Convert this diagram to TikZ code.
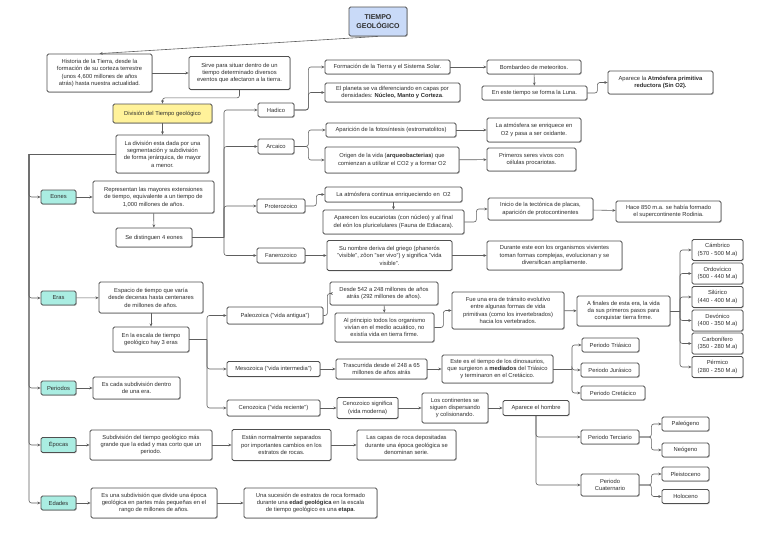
\documentclass[tikz,border=0pt]{standalone}
\usepackage{fontspec}
\setmainfont{Liberation Sans}
\usetikzlibrary{arrows.meta,shadows}
\definecolor{gristrazo}{HTML}{5E5E5E}
\definecolor{borde}{HTML}{505050}
\definecolor{azulcab}{HTML}{C9DAF8}
\definecolor{amarillo}{HTML}{FFF29A}
\definecolor{turquesa}{HTML}{AAEDE2}
\definecolor{texto}{HTML}{2E2E2E}

\begin{document}
\begin{tikzpicture}[x=1pt, y=-1pt,
  caja/.style={draw=borde, line width=0.8pt, rounded corners=1.5pt, fill=white,
    drop shadow={shadow xshift=0.8pt, shadow yshift=-0.8pt, fill=black, opacity=0.2},
    align=center, inner sep=1pt, text=texto, font=\fontsize{5.8}{7.4}\selectfont},
  clase/.style={caja, fill=turquesa},
  tam/.style 2 args={minimum width=#1, minimum height=#2},
  tramo/.style={draw=gristrazo, line width=0.6pt, rounded corners=2.5pt},
  flecha/.style={tramo, -{Stealth[length=3.2pt, width=2.8pt]}}]

  \useasboundingbox (0,0) rectangle (768,544);

  % --- cabecera ---
  \node[caja, fill=azulcab, tam={58pt}{29pt}, font=\fontsize{7}{8.6}\selectfont\bfseries]
    (tiempo) at (378,21.5) {TIEMPO\\GEOLÓGICO};
  \node[caja, tam={105pt}{38pt}] (historia) at (99.5,73)
    {Historia de la Tierra, desde la\\formación de su corteza terrestre\\(unos 4,600 millones de años\\atrás) hasta nuestra actualidad.};
  \node[caja, tam={101pt}{33pt}] (sirve) at (239.5,73)
    {Sirve para situar dentro de un\\tiempo determinado diversos\\eventos que afectaron a la tierra.};
  \node[caja, fill=amarillo, tam={99pt}{19pt}] (division) at (162.5,113.5) {División del Tiempo geológico};
  \node[caja, tam={93pt}{38pt}] (ladiv) at (162.5,154)
    {La división esta dada por una\\segmentación y subdivisión\\de forma jerárquica, de mayor\\a menor.};

  % --- eones ---
  \node[clase, tam={35pt}{14pt}] (eones) at (58.5,197) {Eones};
  \node[caja, tam={121pt}{32pt}] (repres) at (153.5,197)
    {Representan las mayores extensiones\\de tiempo, equivalente a un tiempo de\\1,000 millones de años.};
  \node[caja, tam={76pt}{19pt}] (sedist) at (154,237.5) {Se distinguen 4 eones};

  % --- hadico ---
  \node[caja, tam={36pt}{14pt}] (hadico) at (276,110) {Hadico};
  \node[caja, tam={125pt}{14pt}] (formacion) at (387.5,67) {Formación de la Tierra y el Sistema Solar.};
  \node[caja, tam={135pt}{19pt}] (planeta) at (392.5,92.5)
    {El planeta se va diferenciando en capas por\\densidades: \textbf{Núcleo, Manto y Corteza}.};
  \node[caja, tam={94pt}{14pt}] (bombardeo) at (534,67) {Bombardeo de meteoritos.};
  \node[caja, tam={105pt}{14pt}] (luna) at (534.5,93) {En este tiempo se forma la Luna.};
  \node[caja, tam={105pt}{23pt}] (atmprim) at (660.5,82.5)
    {Aparece la \textbf{Atmósfera primitiva}\\\textbf{reductora (Sin O2).}};

  % --- arcaico ---
  \node[caja, tam={36pt}{15pt}] (arcaico) at (276,146.5) {Arcaico};
  \node[caja, tam={130pt}{14pt}] (fotosint) at (391,130) {Aparición de la fotosíntesis (estromatolitos)};
  \node[caja, tam={134pt}{26pt}] (origen) at (392,160)
    {Origen de la vida (\textbf{arqueobacterias}) que\\comienzan a utilizar el CO2 y a formar O2};
  \node[caja, tam={94pt}{24pt}] (atmoxid) at (534,130) {La atmósfera se enriquece en\\O2 y pasa a ser oxidante.};
  \node[caja, tam={89pt}{23pt}] (primeros) at (531.5,159.5) {Primeros seres vivos con\\células procariotas.};

  % --- proterozoico ---
  \node[caja, tam={48pt}{14pt}] (protero) at (281,206) {Proterozoico};
  \node[caja, tam={137pt}{15pt}] (atmcont) at (393.5,194.5) {La atmósfera continua enriqueciendo en \ O2};
  \node[caja, tam={141pt}{24pt}] (eucar) at (393.5,222)
    {Aparecen los eucariotas (con núcleo) y al final\\del eón los pluricelulares (Fauna de Ediacara).};
  \node[caja, tam={105pt}{22pt}] (tectonica) at (540.5,209)
    {Inicio de la tectónica de placas,\\aparición de protocontinentes};
  \node[caja, tam={105pt}{21pt}] (rodinia) at (668.5,211.5)
    {Hace 850 m.a. se había formado\\el supercontinente Rodinia.};

  % --- fanerozoico ---
  \node[caja, tam={48pt}{15pt}] (fanero) at (281,255.5) {Fanerozoico};
  \node[caja, tam={125pt}{30pt}] (nombre) at (389.5,255.5)
    {Su nombre deriva del griego (phanerós\\"visible", zôon "ser vivo") y significa "vida\\visible".};
  \node[caja, tam={135pt}{29pt}] (durante) at (554.5,255.5)
    {Durante este eon los organismos vivientes\\toman formas complejas, evolucionan y se\\diversifican ampliamente.};

  % --- eras ---
  \node[clase, tam={35pt}{14pt}] (eras) at (58.5,298) {Eras};
  \node[caja, tam={104pt}{31pt}] (espacio) at (151,297.5)
    {Espacio de tiempo que varía\\desde decenas hasta centenares\\de millones de años.};
  \node[caja, tam={76pt}{25pt}] (escala) at (151,339.5) {En la escala de tiempo\\geológico hay 3 eras};

  % --- paleozoica ---
  \node[caja, tam={96pt}{17pt}] (paleoz) at (275,315.5) {Paleozoica ("vida antigua")};
  \node[caja, tam={108pt}{23pt}] (desde) at (384,293.5)
    {Desde 542 a 248 millones de años\\atrás (292 millones de años).};
  \node[caja, tam={99pt}{29pt}] (alprin) at (384.5,327.5)
    {Al principio todos los organismo\\vivían en el medio acuático, no\\existía vida en tierra firme.};
  \node[caja, tam={112pt}{37pt}] (transito) at (508,310.5)
    {Fue una era de tránsito evolutivo\\entre algunas formas de vida\\primitivas (como los invertebrados)\\hacia los vertebrados.};
  \node[caja, tam={93pt}{30pt}] (afinales) at (623.5,311)
    {A finales de esta era, la vida\\da sus primeros pasos para\\conquistar tierra firme.};
  \node[caja, tam={51pt}{21pt}] (cambrico) at (717.5,250) {Cámbrico\\(570 - 500 M.a)};
  \node[caja, tam={51pt}{21pt}] (ordovicico) at (717.5,273.5) {Ordovícico\\(500 - 440 M.a)};
  \node[caja, tam={51pt}{21pt}] (silurico) at (717.5,297) {Silúrico\\(440 - 400 M.a)};
  \node[caja, tam={51pt}{21pt}] (devonico) at (717.5,320.5) {Devónico\\(400 - 350 M.a)};
  \node[caja, tam={51pt}{21pt}] (carbonif) at (717.5,343.5) {Carbonífero\\(350 - 280 M.a)};
  \node[caja, tam={51pt}{21pt}] (permico) at (717.5,367) {Pérmico\\(280 - 250 M.a)};

  % --- mesozoica ---
  \node[caja, tam={93pt}{15pt}] (mesoz) at (273.5,369) {Mesozoica ("vida intermedia")};
  \node[caja, tam={91pt}{20pt}] (trasc) at (381.5,369) {Trascurrida desde el 248 a 65\\millones de años atrás};
  \node[caja, tam={111pt}{28pt}] (dinos) at (497.5,369)
    {Este es el tiempo de los dinosaurios,\\que surgieron a \textbf{mediados} del Triásico\\y terminaron en el Cretácico.};
  \node[caja, tam={57pt}{14pt}] (triasico) at (610.5,345) {Periodo Triásico};
  \node[caja, tam={58pt}{14pt}] (jurasico) at (610,370) {Periodo Jurásico};
  \node[caja, tam={64pt}{14pt}] (cretacico) at (613,393) {Periodo Cretácico};

  % --- cenozoica ---
  \node[caja, tam={93pt}{16pt}] (cenoz) at (273.5,408) {Cenozoica ("vida reciente")};
  \node[caja, tam={61pt}{21pt}] (cenosig) at (367.5,408) {Cenozoico significa\\(vida moderna)};
  \node[caja, tam={66pt}{30pt}] (contin) at (455,408) {Los continentes se\\siguen dispersando\\y colisionando.};
  \node[caja, tam={66pt}{15pt}] (hombre) at (536,408) {Aparece el hombre};
  \node[caja, tam={58pt}{14pt}] (terciario) at (610,437) {Periodo Terciario};
  \node[caja, tam={58pt}{22pt}] (cuatern) at (610,485) {Periodo\\Cuaternario};
  \node[caja, tam={47pt}{14pt}] (paleog) at (685.5,424) {Paleógeno};
  \node[caja, tam={47pt}{14pt}] (neog) at (685.5,450) {Neógeno};
  \node[caja, tam={47pt}{14pt}] (pleist) at (685.5,474) {Pleistoceno};
  \node[caja, tam={47pt}{14pt}] (holoc) at (685.5,496.5) {Holoceno};

  % --- periodos, epocas, edades ---
  \node[clase, tam={35pt}{14pt}] (periodos) at (58.5,388) {Periodos};
  \node[caja, tam={87pt}{22pt}] (escada) at (136.5,388) {Es cada subdivisión dentro\\de una era.};
  \node[clase, tam={35pt}{15pt}] (epocas) at (58.5,445) {Épocas};
  \node[caja, tam={122pt}{30pt}] (subdiv) at (151,445)
    {Subdivisión del tiempo geológico más\\grande que la edad y mas corto que un\\periodo.};
  \node[caja, tam={99pt}{31pt}] (estan) at (281.5,445)
    {Están normalmente separados\\por importantes cambios en los\\estratos de rocas.};
  \node[caja, tam={99pt}{30pt}] (capas) at (406.5,445)
    {Las capas de roca depositadas\\durante una época geológica se\\denominan serie.};
  \node[clase, tam={35pt}{14pt}] (edades) at (58.5,503) {Edades};
  \node[caja, tam={126pt}{30pt}] (esuna) at (154,503)
    {Es una subdivisión que divide una época\\geológica en partes más pequeñas en el\\rango de millones de años.};
  \node[caja, tam={133pt}{30pt}] (sucesion) at (310.5,503)
    {Una sucesión de estratos de roca formado\\durante una \textbf{edad geológica} en la escala\\de tiempo geológico es una \textbf{etapa}.};

  % --- conectores de arriba ---
  \draw[flecha] (tiempo.south) -- (historia.north);
  \draw[flecha] (historia) -- (sirve);
  \draw[flecha] (sirve.south) -- ++(0,8) -| (division.north);
  \draw[flecha] (division) -- (ladiv);
  \coordinate (tronco) at (29,154);
  \draw[tramo] (ladiv.west) -- (tronco);
  \draw[flecha] (tronco) |- (eones);
  \draw[flecha] (tronco) |- (eras);
  \draw[flecha] (tronco) |- (periodos);
  \draw[flecha] (tronco) |- (epocas);
  \draw[flecha] (tronco) |- (edades);

  % --- conectores eones ---
  \draw[flecha] (eones) -- (repres);
  \draw[flecha] (repres) -- (sedist);
  \coordinate (beon) at (224,237.5);
  \draw[tramo] (sedist) -- (beon);
  \draw[flecha] (beon) |- (hadico);
  \draw[flecha] (beon) |- (arcaico);
  \draw[flecha] (beon) |- (protero);
  \draw[flecha] (beon) |- (fanero);
  \draw[flecha] (hadico.east) -- ++(14,0) |- (formacion.west);
  \draw[flecha] (hadico.east) -- ++(14,0) |- (planeta.west);
  \draw[flecha] (formacion) -- (bombardeo);
  \draw[flecha] (bombardeo) -- (luna);
  \draw[flecha] (luna.east) -- ++(10,0) |- (atmprim.west);
  \draw[flecha] (arcaico.east) -- ++(14,0) |- (fotosint.west);
  \draw[flecha] (arcaico.east) -- ++(14,0) |- (origen.west);
  \draw[flecha] (fotosint) -- (atmoxid);
  \draw[flecha] (origen) -- (primeros);
  \draw[flecha] (protero.east) -- ++(11,0) |- (atmcont.west);
  \draw[flecha] (atmcont) -- (eucar);
  \draw[flecha] (eucar.east) -- ++(12,0) |- (tectonica.west);
  \draw[flecha] (tectonica) -- (rodinia);
  \draw[flecha] (fanero) -- (nombre);
  \draw[flecha] (nombre) -- (durante);

  % --- conectores eras ---
  \draw[flecha] (eras) -- (espacio);
  \draw[flecha] (espacio) -- (escala);
  \coordinate (bera) at (207,339.5);
  \draw[tramo] (escala) -- (bera);
  \draw[flecha] (bera) |- (paleoz);
  \draw[flecha] (bera) |- (mesoz);
  \draw[flecha] (bera) |- (cenoz);
  \draw[flecha] (paleoz.east) -- ++(4,0) |- (desde.west);
  \draw[flecha] (desde) -- (alprin);
  \draw[flecha] (alprin.east) -- ++(9,0) |- (transito.west);
  \draw[flecha] (transito) -- (afinales);
  \coordinate (bpal) at (680,311);
  \draw[tramo] (afinales) -- (bpal);
  \draw[flecha] (bpal) |- (cambrico);
  \draw[flecha] (bpal) |- (ordovicico);
  \draw[flecha] (bpal) |- (silurico);
  \draw[flecha] (bpal) |- (devonico);
  \draw[flecha] (bpal) |- (carbonif);
  \draw[flecha] (bpal) |- (permico);
  \draw[flecha] (mesoz) -- (trasc);
  \draw[flecha] (trasc) -- (dinos);
  \coordinate (bmes) at (572,369);
  \draw[tramo] (dinos) -- (bmes);
  \draw[flecha] (bmes) |- (triasico);
  \draw[flecha] (bmes) |- (jurasico);
  \draw[flecha] (bmes) |- (cretacico);
  \draw[flecha] (cenoz) -- (cenosig);
  \draw[flecha] (cenosig) -- (contin);
  \draw[flecha] (contin) -- (hombre);
  \draw[flecha] (hombre.south) |- (terciario.west);
  \draw[flecha] (hombre.south) |- (cuatern.west);
  \draw[flecha] (terciario.east) -- ++(12,0) |- (paleog.west);
  \draw[flecha] (terciario.east) -- ++(12,0) |- (neog.west);
  \draw[flecha] (cuatern.east) -- ++(12,0) |- (pleist.west);
  \draw[flecha] (cuatern.east) -- ++(12,0) |- (holoc.west);

  % --- conectores periodos, epocas, edades ---
  \draw[flecha] (periodos) -- (escada);
  \draw[flecha] (epocas) -- (subdiv);
  \draw[flecha] (subdiv) -- (estan);
  \draw[flecha] (estan) -- (capas);
  \draw[flecha] (edades) -- (esuna);
  \draw[flecha] (esuna) -- (sucesion);

\end{tikzpicture}
\end{document}
